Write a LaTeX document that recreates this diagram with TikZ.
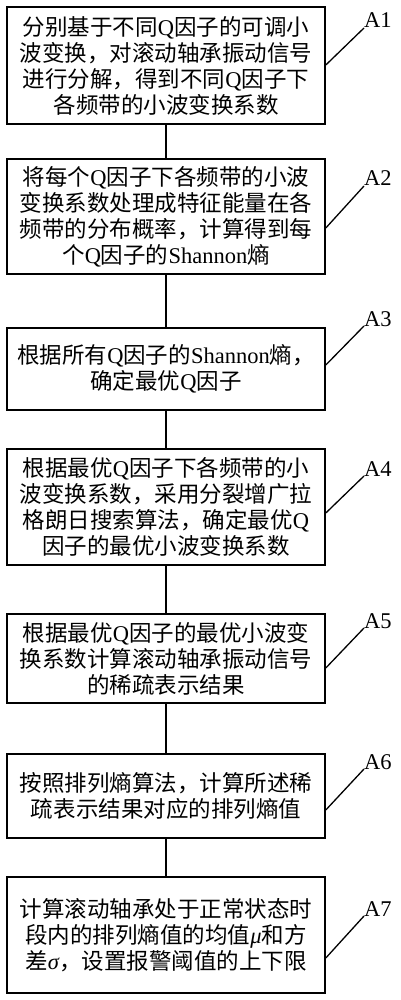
\documentclass[tikz,border=0pt]{standalone}
\usepackage{fontspec}
\setmainfont{Noto Sans CJK SC}
\newfontfamily\tm{Liberation Serif}
\newcommand{\Qf}{{\tm Q}}
\begin{document}
\begin{tikzpicture}[x=1pt,y=-1pt,
  box/.style={draw, line width=1.6pt, minimum width=318pt, inner sep=0pt, align=center, font=\fontsize{22.5}{26}\selectfont},
  tag/.style={anchor=base west, inner sep=0pt, font=\tm\fontsize{22.5}{26}\selectfont},
  lead/.style={line width=1.3pt},
  link/.style={line width=1.6pt}]
\useasboundingbox (0,0) rectangle (400,1000);

\node[box, minimum height=117pt] (b1) at (166,65.5) {分别基于不同\Qf 因子的可调小\\波变换，对滚动轴承振动信号\\进行分解，得到不同\Qf 因子下\\各频带的小波变换系数};
\node[box, minimum height=115pt] (b2) at (166,216.5) {将每个\Qf 因子下各频带的小波\\变换系数处理成特征能量在各\\频带的分布概率，计算得到每\\个\Qf 因子的{\tm Shannon}熵};
\node[box, minimum height=82pt] (b3) at (166,369) {根据所有\Qf 因子的{\tm Shannon}熵，\\确定最优\Qf 因子};
\node[box, minimum height=116pt] (b4) at (166,507) {根据最优\Qf 因子下各频带的小\\波变换系数，采用分裂增广拉\\格朗日搜索算法，确定最优\Qf\\因子的最优小波变换系数};
\node[box, minimum height=89pt] (b5) at (166,658.5) {根据最优\Qf 因子的最优小波变\\换系数计算滚动轴承振动信号\\的稀疏表示结果};
\node[box, minimum height=84pt] (b6) at (166,796) {按照排列熵算法，计算所述稀\\疏表示结果对应的排列熵值};
\node[box, minimum height=116pt] (b7) at (166,935) {计算滚动轴承处于正常状态时\\段内的排列熵值的均值{\tm\itshape μ}和方\\差{\tm\itshape σ}，设置报警阈值的上下限};

\draw[link] (b1.south) -- (b2.north);
\draw[link] (b2.south) -- (b3.north);
\draw[link] (b3.south) -- (b4.north);
\draw[link] (b4.south) -- (b5.north);
\draw[link] (b5.south) -- (b6.north);
\draw[link] (b6.south) -- (b7.north);

\node[tag] (t1) at (364,28) {A1};
\node[tag] (t2) at (364,186) {A2};
\node[tag] (t3) at (364,326) {A3};
\node[tag] (t4) at (364,476) {A4};
\node[tag] (t5) at (364,628) {A5};
\node[tag] (t6) at (364,769) {A6};
\node[tag] (t7) at (364,916) {A7};

\draw[lead] ([yshift=0.5pt]b1.east) -- (t1.base west);
\draw[lead] ([yshift=-11.5pt]b2.east) -- (t2.base west);
\draw[lead] ([yshift=4pt]b3.east) -- (t3.base west);
\draw[lead] ([yshift=-6pt]b4.east) -- (t4.base west);
\draw[lead] ([yshift=-9.5pt]b5.east) -- (t5.base west);
\draw[lead] ([yshift=-14pt]b6.east) -- (t6.base west);
\draw[lead] ([yshift=-23pt]b7.east) -- (t7.base west);
\end{tikzpicture}
\end{document}
